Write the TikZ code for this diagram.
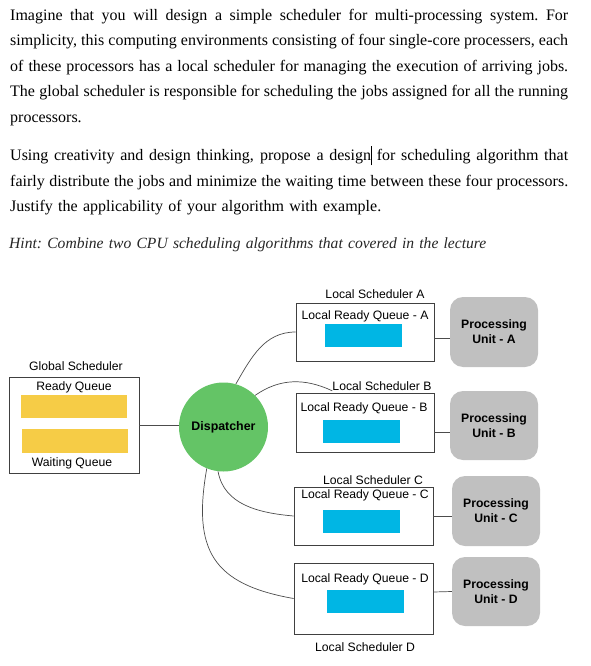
\documentclass[tikz,border=0pt]{standalone}
\usepackage{fontspec}
\setmainfont{Liberation Serif}
\setsansfont{Liberation Sans}
\definecolor{jobyellow}{RGB}{246,204,70}
\definecolor{jobblue}{RGB}{0,182,228}
\definecolor{dispgreen}{RGB}{100,196,102}
\definecolor{cpugray}{RGB}{192,192,192}
\newcommand{\jline}[1]{\leavevmode\hbox to 558pt{\spaceskip=4pt plus 8pt minus 2pt\xspaceskip=\spaceskip #1}}
\begin{document}
\begin{tikzpicture}[x=1pt,y=-1pt,
  para/.style={inner sep=0,anchor=base west,align=left,text width=560pt,font=\fontsize{16}{25.5}\selectfont},
  lbl/.style={inner sep=0,anchor=base,font=\sffamily\fontsize{12.2}{14.6}\selectfont},
  sched/.style={draw=black!75,line width=0.8pt,inner sep=0},
  jobq/.style={inner sep=0,minimum width=77pt,minimum height=23pt},
  cpu/.style={rounded corners=13pt,fill=cpugray,inner sep=0,minimum width=88pt,minimum height=70pt,align=center,font=\sffamily\bfseries\fontsize{12.2}{15}\selectfont},
  wire/.style={draw=black!70,line width=0.7pt}]
  \useasboundingbox (0,0) rectangle (591,666);

  % question text
  \node[para] (q1) at (10,20.5) {%
    \jline{Imagine that you will design a simple scheduler for multi-processing system. For}\\
    \jline{simplicity, this computing environments consisting of four single-core processers, each}\\
    \jline{of these processors has a local scheduler for managing the execution of arriving jobs.}\\
    \jline{The global scheduler is responsible for scheduling the jobs assigned for all the running}\\
    processors.};
  \node[para] (q2) at (10,160.5) {%
    \jline{Using creativity and design thinking, propose a design\rlap{\kern0.3pt\rule[-5pt]{0.9pt}{19pt}} for scheduling algorithm that}\\
    \jline{fairly distribute the jobs and minimize the waiting time between these four processors.}\\
    \frenchspacing Justify the applicability of your algorithm with example.};
  \node[para,text=black!85,font=\fontsize{15.6}{25.5}\selectfont\itshape\frenchspacing] (hint) at (9,248.5)
    {Hint: Combine two CPU scheduling algorithms that covered in the lecture};

  % global scheduler
  \node[lbl] (gsT) at (76,370.5) {Global Scheduler};
  \node[sched,minimum width=130pt,minimum height=96pt] (gs) at (74,425) {};
  \node[lbl] (rqT) at (74,390.5) {Ready Queue};
  \node[jobq,fill=jobyellow,minimum width=106pt] (rq) at (74,406.5) {};
  \node[jobq,fill=jobyellow,minimum width=106pt,minimum height=24pt] (wq) at (75,441) {};
  \node[lbl] (wqT) at (72,466.5) {Waiting Queue};

  % dispatcher
  \node[circle,fill=dispgreen,minimum size=89pt,inner sep=0,
        font=\sffamily\bfseries\fontsize{12.4}{14}\selectfont] (disp) at (223.5,427) {Dispatcher};

  % local schedulers
  \node[lbl] (lsAT) at (375,298.5) {Local Scheduler A};
  \node[sched,minimum width=138pt,minimum height=58pt] (lsA) at (365,332) {};
  \node[lbl] (lqAT) at (365,319.5) {Local Ready Queue - A};
  \node[jobq,fill=jobblue] (lqA) at (363.5,335.5) {};

  \node[lbl] (lsBT) at (382,390.5) {Local Scheduler B};
  \node[sched,minimum width=138pt,minimum height=59pt] (lsB) at (365,422.5) {};
  \node[lbl] (lqBT) at (364,411.5) {Local Ready Queue - B};
  \node[jobq,fill=jobblue] (lqB) at (361.5,431) {};

  \node[lbl] (lsCT) at (373,484.5) {Local Scheduler C};
  \node[sched,minimum width=139pt,minimum height=58pt] (lsC) at (363.5,516) {};
  \node[lbl] (lqCT) at (365,498.5) {Local Ready Queue - C};
  \node[jobq,fill=jobblue] (lqC) at (361.5,521) {};

  \node[sched,minimum width=139pt,minimum height=71pt] (lsD) at (363.5,598.5) {};
  \node[lbl] (lqDT) at (365,582.5) {Local Ready Queue - D};
  \node[jobq,fill=jobblue] (lqD) at (365,601) {};
  \node[lbl] (lsDT) at (365,651.5) {Local Scheduler D};

  % processing units
  \node[cpu] (puA) at (494,332) {Processing\\Unit - A};
  \node[cpu,minimum height=69pt] (puB) at (494,425.5) {Processing\\Unit - B};
  \node[cpu] (puC) at (496,511) {Processing\\Unit - C};
  \node[cpu,minimum height=69pt] (puD) at (496,591.5) {Processing\\Unit - D};

  \draw[wire] (gs.east) -- (gs.east -| disp.west);
  \draw[wire] (disp.74) to[out=60,in=180] (lsA.west);
  \draw[wire] (disp.45) to[out=35,in=155] (lsBT.south west);
  \draw[wire] (disp.263) to[out=-80,in=175] (lsC.west);
  \draw[wire] (disp.248) to[out=-100,in=170,looseness=1.35] (lsD.west);

  \draw[wire] ([yshift=-6pt]lsA.east) -- ([yshift=-6pt]puA.west);
  \draw[wire] ([yshift=-9.5pt]lsB.east) -- ([yshift=-6.5pt]puB.west);
  \draw[wire] (lsC.east) -- ([yshift=-5pt]puC.west);
  \draw[wire] ([yshift=6.5pt]lsD.east) -- (puD.west);
\end{tikzpicture}
\end{document}
